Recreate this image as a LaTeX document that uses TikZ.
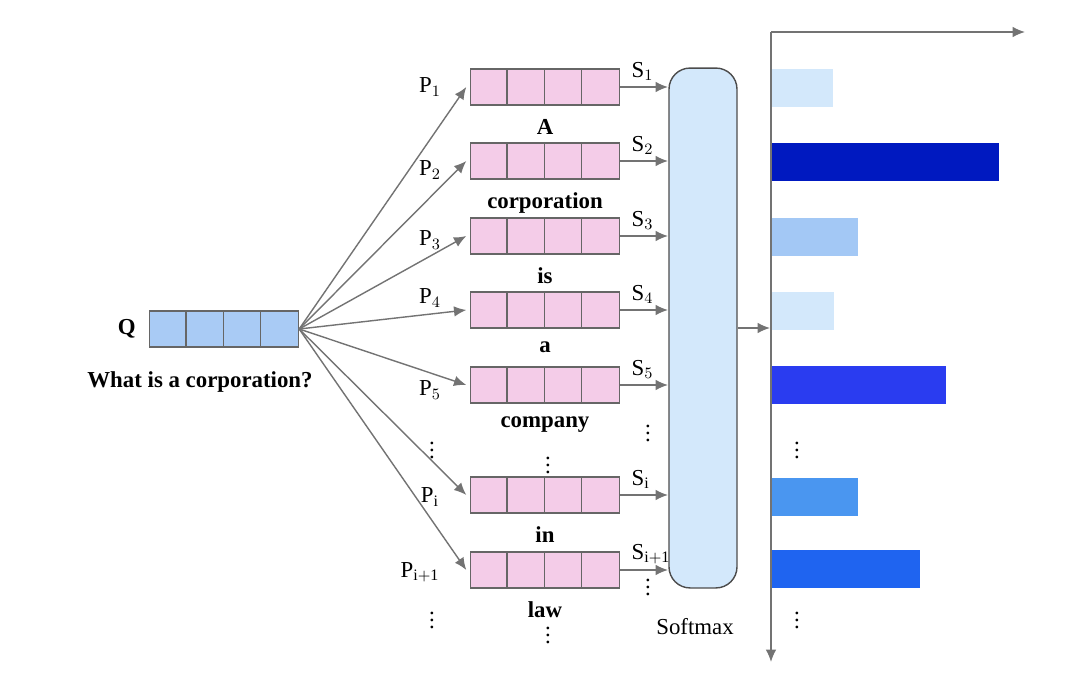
\documentclass[tikz,border=0pt]{standalone}
\usepackage{fontspec}
\setmainfont{Liberation Serif}
\usetikzlibrary{positioning,arrows.meta}
\definecolor{cellpink}{HTML}{F4CCE8}
\definecolor{cellblue}{HTML}{A9CBF5}
\definecolor{softblue}{HTML}{D3E8FB}
\begin{document}
\begin{tikzpicture}[x=0.02cm,y=-0.02cm,font=\fontsize{13}{15}\selectfont,
	vec/.style={draw=gray!80!black, thick, minimum width=2.98cm, minimum height=0.72cm, inner sep=0pt},
	arr/.style={gray!90!black, thick, -{Latex[length=7pt,width=6pt]}},
	word/.style={font=\fontsize{13}{15}\selectfont\bfseries},
	vdots/.style={inner sep=0pt, font=\fontsize{13}{15}\selectfont}]
	\useasboundingbox (0,0) rectangle (1080,683);
	% question vector
	\node[vec, fill=cellblue] (q) at (224,329) {};
	\foreach \k in {1,2,3} \draw[gray!80!black, thick] ([xshift=\k*0.745cm]q.north west) -- ([xshift=\k*0.745cm]q.south west);
	\node[word, left=4pt of q] {Q};
	\node[word] at (200,382) {What is a corporation?};
	% softmax block
	\node[draw=black!70, thick, fill=softblue, rounded corners=12pt, minimum width=1.36cm, minimum height=10.4cm] (sm) at (703,328) {};
	\node at (695,627) {Softmax};
	% passage vectors
	\foreach \n/\y/\w/\s in {1/87/A/S$_1$, 2/161/corporation/S$_2$, 3/236/is/S$_3$,
		4/310/a/S$_4$, 5/385/company/S$_5$, i/495/in/S$_\mathrm{i}$, j/570/law/S$_\mathrm{i+1}$} {
		\node[vec, fill=cellpink] (v\n) at (545,\y) {};
		\foreach \k in {1,2,3} \draw[gray!80!black, thick] ([xshift=\k*0.745cm]v\n.north west) -- ([xshift=\k*0.745cm]v\n.south west);
		\node[word, below=4pt of v\n] {\w};
		\draw[arr] (q.east) -- ([xshift=-2pt]v\n.west);
		\coordinate (s\n) at (668,\y);
		\draw[arr] (v\n.east) -- (s\n);
		\node[above right=0pt and 3pt of v\n.east] {\s};
	}
	\node at (430,87) {P$_1$};
	\node at (430,170) {P$_2$};
	\node at (430,240) {P$_3$};
	\node at (430,298) {P$_4$};
	\node at (430,390) {P$_5$};
	\node at (430,497) {P$_\mathrm{i}$};
	\node at (420,572) {P$_\mathrm{i+1}$};
	\foreach \x/\y in {432/445, 432/615, 548/460, 548/630, 648/428, 648/582, 797/445, 797/615}
		\node[vdots] at (\x,\y) {$\vdots$};
	% axes
	\coordinate (o) at (771,32);
	\coordinate (xe) at (1025,32);
	\coordinate (ye) at (771,662);
	\draw[arr] (o) -- (xe);
	\draw[arr] (o) -- (ye);
	\coordinate (smin) at (770,328);
	\draw[arr] (sm.east |- smin) -- (smin);
	% bars
	\foreach \t/\b/\l/\c in {69/107/833/D3E8FB, 143/181/999/0019C0, 218/256/858/A3C8F5, 292/330/834/D3E8FB,
		366/404/946/2A3CF0, 478/516/858/4A96F0, 550/588/920/1F64F0} {
		\definecolor{barc}{HTML}{\c}
		\fill[barc] (772,\t) rectangle (\l,\b);
	}
\end{tikzpicture}
\end{document}
